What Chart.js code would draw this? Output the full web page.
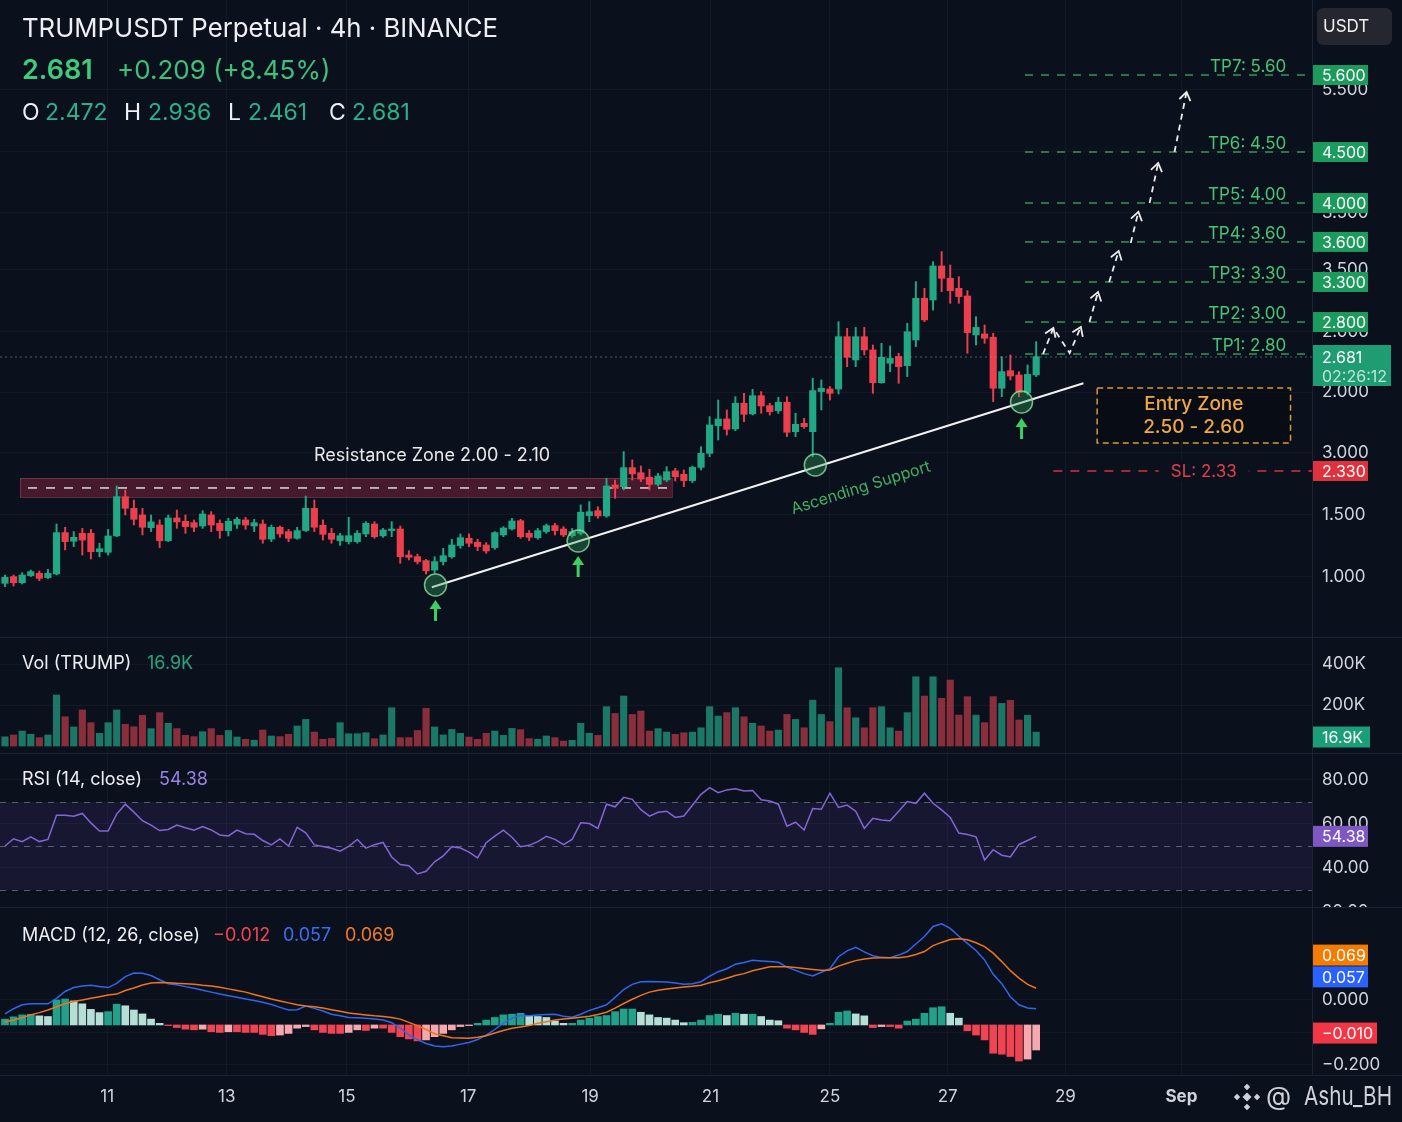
<!DOCTYPE html>
<html>
<head>
<meta charset="utf-8">
<title>TRUMPUSDT Perpetual 4h</title>
<script src="https://cdn.jsdelivr.net/npm/chart.js@4.4.1/dist/chart.umd.min.js"></script>
<style>
  html, body { margin: 0; padding: 0; background: #0b101d; }
  #wrap { position: relative; width: 1402px; height: 1122px; overflow: hidden; background: #0b101d; }
  #wrap canvas { position: absolute; left: 0; }
</style>
</head>
<body>
<div id="wrap">
  <canvas id="priceChart" width="1402" height="637" style="top:0px"></canvas>
  <canvas id="volChart" width="1402" height="116" style="top:637px"></canvas>
  <canvas id="rsiChart" width="1402" height="154" style="top:753px"></canvas>
  <canvas id="macdChart" width="1402" height="215" style="top:907px"></canvas>
</div>
<script>
// ---- datos de velas (4h) ----
const candleOpen = [0.949,1.003,0.954,1.011,1.030,0.995,1.024,1.358,1.288,1.352,
  1.352,1.204,1.199,1.331,1.648,1.554,1.500,1.398,1.419,1.293,
  1.476,1.449,1.438,1.411,1.500,1.433,1.374,1.425,1.460,1.411,
  1.427,1.306,1.401,1.366,1.312,1.374,1.554,1.417,1.352,1.293,
  1.285,1.285,1.347,1.427,1.331,1.374,1.387,1.177,1.164,1.132,
  1.056,1.124,1.164,1.253,1.312,1.280,1.258,1.237,1.339,1.387,
  1.454,1.352,1.317,1.366,1.414,1.387,1.333,1.352,1.495,1.535,
  1.492,1.742,1.728,1.882,1.841,1.804,1.747,1.782,1.855,1.828,
  1.777,1.884,1.997,2.220,2.274,2.194,2.401,2.315,2.462,2.382,
  2.341,2.409,2.172,2.239,2.172,2.495,2.516,2.516,2.938,2.750,
  2.938,2.831,2.567,2.723,2.777,2.704,2.911,3.247,3.234,3.508,
  3.409,3.328,3.266,2.952,2.960,2.933,2.522,2.664,2.629,2.487,
  2.629];
const candleHigh = [1.016,1.016,1.035,1.056,1.048,1.062,1.427,1.401,1.366,1.392,
  1.384,1.272,1.384,1.734,1.702,1.621,1.554,1.500,1.460,1.500,
  1.540,1.500,1.460,1.535,1.527,1.460,1.473,1.481,1.481,1.465,
  1.460,1.419,1.411,1.384,1.401,1.653,1.621,1.460,1.392,1.352,
  1.481,1.374,1.446,1.446,1.392,1.446,1.411,1.212,1.185,1.142,
  1.164,1.231,1.304,1.347,1.347,1.304,1.277,1.366,1.406,1.473,
  1.465,1.374,1.392,1.427,1.433,1.406,1.392,1.581,1.608,1.567,
  1.796,1.782,2.011,1.944,1.895,1.868,1.836,1.890,1.876,1.863,
  1.895,2.051,2.293,2.427,2.347,2.454,2.481,2.513,2.495,2.401,
  2.449,2.454,2.320,2.280,2.602,2.589,2.535,3.059,3.005,3.013,
  3.013,2.871,2.884,2.863,2.804,3.046,3.382,3.328,3.543,3.624,
  3.516,3.422,3.309,3.099,3.032,2.965,2.777,2.790,2.656,2.710,
  2.898];
const candleLow = [0.922,0.927,0.944,1.003,0.970,0.987,1.016,1.218,1.245,1.177,
  1.145,1.164,1.177,1.325,1.500,1.419,1.339,1.366,1.237,1.285,
  1.392,1.352,1.366,1.392,1.366,1.312,1.331,1.392,1.384,1.366,
  1.272,1.285,1.320,1.285,1.304,1.366,1.366,1.298,1.272,1.255,
  1.266,1.272,1.325,1.312,1.320,1.325,1.110,1.137,1.105,1.024,
  1.030,1.097,1.151,1.231,1.245,1.212,1.191,1.223,1.325,1.379,
  1.312,1.293,1.304,1.352,1.339,1.325,1.320,1.339,1.446,1.473,
  1.481,1.634,1.702,1.782,1.769,1.702,1.734,1.769,1.774,1.728,
  1.761,1.863,1.970,2.105,2.145,2.180,2.253,2.306,2.320,2.306,
  2.320,2.132,2.132,2.199,1.970,2.347,2.427,2.476,2.696,2.696,
  2.790,2.481,2.562,2.656,2.562,2.616,2.858,3.059,3.153,3.301,
  3.207,3.207,2.804,2.871,2.884,2.414,2.454,2.589,2.454,2.468,
  2.616];
const candleClose = [0.997,0.954,1.016,1.043,0.989,1.030,1.358,1.285,1.320,1.298,
  1.204,1.228,1.331,1.648,1.554,1.465,1.401,1.444,1.293,1.476,
  1.444,1.406,1.401,1.508,1.419,1.374,1.449,1.465,1.419,1.438,
  1.304,1.401,1.347,1.312,1.374,1.554,1.401,1.344,1.304,1.333,
  1.333,1.352,1.433,1.325,1.379,1.387,1.164,1.159,1.124,1.051,
  1.124,1.172,1.258,1.317,1.272,1.245,1.210,1.358,1.395,1.452,
  1.325,1.320,1.374,1.414,1.374,1.339,1.366,1.522,1.527,1.492,
  1.734,1.715,1.882,1.831,1.790,1.747,1.815,1.849,1.809,1.777,
  1.884,1.997,2.226,2.274,2.191,2.401,2.312,2.462,2.379,2.333,
  2.409,2.167,2.231,2.212,2.503,2.522,2.481,2.938,2.772,2.938,
  2.831,2.567,2.772,2.763,2.696,2.978,3.247,3.073,3.508,3.409,
  3.309,3.261,2.970,3.013,2.925,2.522,2.656,2.621,2.487,2.634,
  2.777];

// volumen en miles (K)
const volumeK = [45,54,73,57,41,54,249,143,93,176,
  114,62,114,176,106,94,150,85,163,111,
  85,52,46,70,85,52,76,44,33,28,
  78,49,46,57,98,130,68,33,37,114,
  60,60,65,36,54,187,41,41,76,184,
  93,54,81,62,44,33,62,73,52,86,
  80,36,33,49,41,24,28,111,62,52,
  192,159,244,154,171,73,85,68,57,65,
  68,89,192,146,163,187,143,111,98,73,
  78,154,130,89,224,154,119,382,187,138,
  89,187,192,89,73,163,338,244,338,233,
  322,151,241,151,114,241,208,223,127,150,
  68];

const rsiValues = [50,53.3,52,54.2,52,53,64,64,63.5,64.8,
  60.5,56.8,56.8,64.5,69,65.4,61.5,59.5,57,57.5,
  59.5,58.3,57.2,58.8,57.3,55,54.6,57.2,55.6,55.3,
  52.5,50.5,53.2,50,58.5,56,50.5,49.8,49,47.6,
  49.8,53,49,50.6,51.6,45,41.6,41,37.3,38.5,
  42.8,45.5,49.7,49.1,47.2,44.6,51.5,54.5,57.2,54,
  49.7,50.3,52,54.4,53,50.6,53,60.6,60.2,58,
  69,67.8,72.1,71.2,66.5,63.6,65.3,65.8,63,63.6,
  68.5,73.5,76.5,74.2,75.5,76,75,75.2,71,70.5,
  69,59,60.8,57.3,67,66.7,74,67.5,68.6,65.8,
  58,62.6,61.8,61.5,65.8,70.2,69.4,74,69.4,66.4,
  63,55.9,55.2,54.2,43.6,48.3,45.8,45,50.7,52.5,
  54.38];

const macdLine = [0.034,0.050,0.062,0.065,0.065,0.065,0.082,0.103,0.115,0.120,
  0.122,0.118,0.115,0.128,0.149,0.160,0.159,0.152,0.139,0.127,
  0.124,0.118,0.113,0.107,0.101,0.095,0.090,0.085,0.080,0.075,
  0.070,0.063,0.054,0.046,0.047,0.058,0.051,0.043,0.033,0.028,
  0.023,0.022,0.021,0.018,0.015,0.007,-0.010,-0.031,-0.045,-0.057,
  -0.065,-0.067,-0.065,-0.059,-0.054,-0.045,-0.031,-0.014,0.006,0.021,
  0.029,0.028,0.031,0.032,0.033,0.027,0.024,0.033,0.045,0.053,
  0.062,0.085,0.109,0.125,0.133,0.134,0.133,0.132,0.129,0.125,
  0.127,0.133,0.150,0.164,0.173,0.187,0.192,0.199,0.197,0.195,
  0.193,0.178,0.168,0.158,0.151,0.162,0.173,0.210,0.228,0.239,
  0.225,0.213,0.208,0.207,0.215,0.226,0.249,0.272,0.303,0.311,
  0.297,0.273,0.251,0.229,0.200,0.156,0.127,0.087,0.062,0.052,
  0.050];
const signalLine = [0.009,0.015,0.022,0.031,0.038,0.046,0.056,0.065,0.072,0.077,
  0.082,0.087,0.092,0.095,0.106,0.114,0.123,0.129,0.131,0.130,
  0.128,0.127,0.125,0.122,0.120,0.116,0.111,0.106,0.101,0.094,
  0.087,0.080,0.074,0.068,0.062,0.058,0.056,0.052,0.047,0.042,
  0.037,0.034,0.031,0.028,0.026,0.023,0.018,0.008,-0.002,-0.014,
  -0.027,-0.033,-0.039,-0.040,-0.041,-0.038,-0.033,-0.025,-0.017,-0.010,
  -0.006,-0.002,0.005,0.010,0.015,0.018,0.021,0.024,0.027,0.032,
  0.039,0.052,0.066,0.079,0.091,0.101,0.107,0.111,0.114,0.117,
  0.119,0.122,0.130,0.136,0.144,0.152,0.158,0.167,0.173,0.179,
  0.179,0.179,0.177,0.174,0.171,0.168,0.169,0.181,0.190,0.198,
  0.203,0.206,0.207,0.207,0.207,0.210,0.217,0.226,0.244,0.254,
  0.263,0.265,0.262,0.253,0.241,0.221,0.195,0.167,0.144,0.125,
  0.113];
const macdHist = [0.018,0.025,0.031,0.033,0.028,0.026,0.077,0.080,0.074,0.065,
  0.048,0.038,0.041,0.064,0.059,0.046,0.034,0.018,0.005,-0.002,
  -0.008,-0.013,-0.015,-0.013,-0.021,-0.023,-0.021,-0.021,-0.023,-0.023,
  -0.029,-0.033,-0.031,-0.026,-0.010,-0.005,-0.015,-0.023,-0.026,-0.026,
  -0.023,-0.015,-0.017,-0.010,-0.010,-0.023,-0.036,-0.043,-0.049,-0.046,
  -0.036,-0.026,-0.015,-0.005,-0.002,0.005,0.015,0.023,0.031,0.033,
  0.036,0.029,0.026,0.023,0.012,0.005,0.005,0.015,0.021,0.026,
  0.029,0.041,0.049,0.049,0.039,0.031,0.023,0.021,0.015,0.007,
  0.008,0.015,0.029,0.033,0.029,0.036,0.033,0.033,0.026,0.015,
  0.013,-0.010,-0.015,-0.023,-0.029,-0.012,0.005,0.039,0.043,0.034,
  0.028,-0.008,-0.005,-0.005,-0.010,0.012,0.018,0.036,0.053,0.056,
  0.036,0.021,-0.018,-0.031,-0.046,-0.087,-0.090,-0.097,-0.111,-0.105,
  -0.077];

// eje de fechas (posicion en velas) y etiquetas
const dateTickIndex = [11.9, 25.8, 39.8, 53.9, 68.1, 82.1, 96.0, 109.7, 123.4, 136.9];
const dateTickLabels = ['11', '13', '15', '17', '19', '21', '25', '27', '29', 'Sep'];

// etiquetas de los ejes tal como aparecen
const priceTickValues = [1.0, 1.5, 2.0, 2.49, 2.98, 3.48, 3.94, 4.43, 4.93];
const priceTickLabels = ['1.000', '1.500', '3.000', '2.000', '2.000', '3.500', '3.500', '4.500', '5.500'];
const volTickValues = [200, 400];
const volTickLabels = ['200K', '400K'];
const rsiTickValues = [20, 40, 60, 80];
const rsiTickLabels = ['20.00', '40.00', '60.00', '80.00'];
const rsiBandLevels = [70, 50, 30];
const macdTickValues = [-0.123, -0.022, 0.077];
const macdTickLabels = ['\u22120.200', '\u22120.100', '0.000'];

// niveles del plan de trading
const tpLevels = [2.798, 3.056, 3.379, 3.702, 4.016, 4.427, 5.048];
const tpLabels = ['TP1: 2.80', 'TP2: 3.00', 'TP3: 3.30', 'TP4: 3.60', 'TP5: 4.00', 'TP6: 4.50', 'TP7: 5.60'];
const tpTags = [null, '2.800', '3.300', '3.600', '4.000', '4.500', '5.600'];
const tpStartX = 118.7, tpLabelX = 149.1;
const slLevel = 1.855, slStartX = 122.0, slLabelX = 139.5;
const slLabel = 'SL: 2.33', slTag = '2.330';
const lastLevel = 2.774, lastTag = '2.681', lastCountdown = '02:26:12';
const entryX = [127.1, 149.6], entryY = [2.081, 2.524];
const entryLabels = ['Entry Zone', '2.50 - 2.60'];
const resZoneX = [1.75, 77.6], resZoneY = [1.645, 1.798], resZoneMid = 1.718;
const resLabel = 'Resistance Zone 2.00 - 2.10', resLabelAt = [49.7, 1.976];
const supportX = [49.67, 125.5], supportY = [0.917, 2.562];
const supportLabel = 'Ascending Support', supportLabelAt = [99.6, 1.718];
const touchX = [50.1, 66.7, 94.3, 118.3], touchY = [0.935, 1.290, 1.903, 2.411];
const arrowX = [50.1, 66.7, 118.3], arrowY = [0.815, 1.169, 2.282];
const projSegX = [[120.8, 122.0, 123.9, 125.2], [126.2, 127.2], [128.5, 129.6], [131.0, 131.9], [133.2, 134.2], [136.1, 137.5]];
const projSegY = [[2.798, 3.008, 2.806, 3.016], [3.056, 3.298], [3.379, 3.629], [3.694, 3.944], [4.016, 4.339], [4.427, 4.911]];

const volTagLevel = 44, volTag = '16.9K';
const rsiLast = '54.38';
const macdTagLevels = [0.215, 0.148, -0.025];
const macdTagTexts = ['0.069', '0.057', '\u22120.010'];

// textos de cabecera
const headerTitle = 'TRUMPUSDT Perpetual \u00b7 4h \u00b7 BINANCE';
const headerPrice = '2.681', headerChange = '+0.209 (+8.45%)';
const ohlcKeys = ['O', 'H', 'L', 'C'];
const ohlcVals = ['2.472', '2.936', '2.461', '2.681'];

// ---- estilos ----
const FONT = 'Inter, "Noto Sans", "DejaVu Sans", sans-serif';
const BG = '#0b101d';
const GRID = 'rgba(255,255,255,0.035)';
const SEP = '#1d2333';
const AXIS_TXT = '#d1d4dc';
const UP = '#21a884', DOWN = '#ec3f4d';
const X_MIN = -0.58, X_MAX = 152.1;

const idx = candleOpen.map((_, i) => i);
const isUp = i => candleClose[i] >= candleOpen[i];

function xAxis(showLabels) {
  return {
    type: 'linear', min: X_MIN, max: X_MAX, offset: false,
    grid: { color: GRID, drawTicks: false, offset: false },
    border: { display: false },
    ticks: {
      display: showLabels, autoSkip: false, maxRotation: 0, padding: 12, color: AXIS_TXT,
      font: c => ({ family: FONT, size: 17, weight: c.index === dateTickLabels.length - 1 ? 'bold' : 'normal' }),
      callback: (v, i) => dateTickLabels[i]
    },
    afterBuildTicks: s => { s.ticks = dateTickIndex.map(v => ({ value: v })); },
    afterFit: s => { s.height = showLabels ? 47 : 0; s.paddingLeft = 0; s.paddingRight = 0; }
  };
}

function yAxis(min, max, values, labels) {
  return {
    type: 'linear', position: 'right', min, max,
    grid: { color: GRID, drawTicks: false },
    border: { display: true, color: SEP },
    ticks: { autoSkip: false, padding: 10, color: AXIS_TXT, font: { family: FONT, size: 17 }, callback: (v, i) => labels[i] },
    afterBuildTicks: s => { s.ticks = values.map(v => ({ value: v })); },
    afterFit: s => { s.width = 90; s.paddingTop = 0; s.paddingBottom = 0; }
  };
}

function baseOptions(y, showX) {
  return {
    responsive: false, animation: false, events: [],
    layout: { padding: 0, autoPadding: false },
    plugins: { legend: { display: false }, tooltip: { enabled: false } },
    scales: { x: xAxis(showX), y }
  };
}

function hLine(x0, x1, v, color, dash, width, order) {
  return { type: 'line', data: [{ x: x0, y: v }, { x: x1, y: v }], borderColor: color, borderWidth: width,
    borderDash: dash, pointRadius: 0, fill: false, order };
}

function tag(ctx, x, yMid, w, h, color, text) {
  ctx.fillStyle = color;
  ctx.fillRect(x, yMid - h / 2, w, h);
  ctx.fillStyle = '#ffffff';
  ctx.font = `16px ${FONT}`;
  ctx.textAlign = 'left';
  ctx.textBaseline = 'middle';
  ctx.fillText(text, x + 9, yMid + 1);
}

function separator(ctx, y) {
  ctx.fillStyle = SEP;
  ctx.fillRect(0, y, 1402, 1);
}

function legendText(ctx, parts, y) {
  ctx.textAlign = 'left';
  ctx.textBaseline = 'middle';
  ctx.font = `18px ${FONT}`;
  parts.forEach(p => { ctx.fillStyle = p[2]; ctx.fillText(p[0], p[1], y); });
}

function chevron(ctx, fx, fy, tx, ty) {
  const ang = Math.atan2(ty - fy, tx - fx), len = 10, spread = 0.6;
  ctx.beginPath();
  ctx.moveTo(tx - len * Math.cos(ang - spread), ty - len * Math.sin(ang - spread));
  ctx.lineTo(tx, ty);
  ctx.lineTo(tx - len * Math.cos(ang + spread), ty - len * Math.sin(ang + spread));
  ctx.stroke();
}

// texto ajustado a un ancho dado (escala horizontal)
function fitText(ctx, text, x, y, width) {
  const w = ctx.measureText(text).width;
  ctx.save();
  ctx.translate(x, y);
  ctx.scale(Math.min(1, width / w), 1);
  ctx.fillText(text, 0, 0);
  ctx.restore();
}

/**
 * 1. GRAFICO DE PRECIO
 */
const pricePlugin = {
  id: 'priceMarks',
  beforeDatasetsDraw(chart) {
    const { ctx, scales: { x, y } } = chart;
    ctx.save();
    const x1 = x.getPixelForValue(resZoneX[0]), x2 = x.getPixelForValue(resZoneX[1]);
    const yt = y.getPixelForValue(resZoneY[1]), yb = y.getPixelForValue(resZoneY[0]);
    ctx.fillStyle = 'rgba(118,34,56,0.55)';
    ctx.fillRect(x1, yt, x2 - x1, yb - yt);
    ctx.strokeStyle = 'rgba(160,70,95,0.55)';
    ctx.lineWidth = 1;
    ctx.strokeRect(x1 + 0.5, yt + 0.5, x2 - x1, yb - yt);
    const ym = y.getPixelForValue(resZoneMid);
    ctx.strokeStyle = 'rgba(236,236,236,0.85)';
    ctx.lineWidth = 1.6;
    ctx.setLineDash([9, 9]);
    ctx.beginPath(); ctx.moveTo(x1 + 8, ym); ctx.lineTo(x2, ym); ctx.stroke();
    ctx.restore();
  },
  afterDatasetsDraw(chart) {
    const { ctx, scales: { x, y } } = chart;
    ctx.save();
    // texto zona de resistencia
    ctx.font = `18px ${FONT}`;
    ctx.fillStyle = '#e9e9e9';
    ctx.textAlign = 'center';
    ctx.textBaseline = 'middle';
    ctx.fillText(resLabel, x.getPixelForValue(resLabelAt[0]), y.getPixelForValue(resLabelAt[1]));

    // texto del soporte, girado con la linea
    const sx0 = x.getPixelForValue(supportX[0]), sy0 = y.getPixelForValue(supportY[0]);
    const sx1 = x.getPixelForValue(supportX[1]), sy1 = y.getPixelForValue(supportY[1]);
    ctx.save();
    ctx.translate(x.getPixelForValue(supportLabelAt[0]), y.getPixelForValue(supportLabelAt[1]));
    ctx.rotate(Math.atan2(sy1 - sy0, sx1 - sx0));
    ctx.font = `16px ${FONT}`;
    ctx.fillStyle = '#3fae60';
    ctx.fillText(supportLabel, 0, 0);
    ctx.restore();

    // flechas verdes bajo los toques
    ctx.fillStyle = '#3ccf62';
    arrowX.forEach((v, i) => {
      const px = x.getPixelForValue(v), py = y.getPixelForValue(arrowY[i]);
      ctx.beginPath(); ctx.moveTo(px, py); ctx.lineTo(px - 6, py + 9); ctx.lineTo(px + 6, py + 9); ctx.closePath(); ctx.fill();
      ctx.fillRect(px - 1.5, py + 8, 3, 13);
    });

    // puntas de flecha de la proyeccion
    ctx.strokeStyle = '#ececec';
    ctx.lineWidth = 1.8;
    projSegX.forEach((seg, k) => {
      const ys = projSegY[k];
      for (let j = 1; j < seg.length; j++) {
        const peak = j === seg.length - 1 || ys[j] > ys[j + 1];
        if (!peak) continue;
        chevron(ctx, x.getPixelForValue(seg[j - 1]), y.getPixelForValue(ys[j - 1]), x.getPixelForValue(seg[j]), y.getPixelForValue(ys[j]));
      }
    });

    // etiquetas TP
    ctx.font = `17px ${FONT}`;
    ctx.fillStyle = '#47c474';
    ctx.textAlign = 'right';
    ctx.textBaseline = 'alphabetic';
    tpLevels.forEach((l, i) => ctx.fillText(tpLabels[i], x.getPixelForValue(tpLabelX), y.getPixelForValue(l) - 3));

    // stop loss
    ctx.font = `17px ${FONT}`;
    const slx = x.getPixelForValue(slLabelX), sly = y.getPixelForValue(slLevel);
    const tw = ctx.measureText(slLabel).width;
    ctx.fillStyle = BG;
    ctx.fillRect(slx - tw / 2 - 12, sly - 10, tw + 24, 20);
    ctx.fillStyle = '#e2404b';
    ctx.textAlign = 'center';
    ctx.textBaseline = 'middle';
    ctx.fillText(slLabel, slx, sly + 1);

    // zona de entrada
    const ex0 = x.getPixelForValue(entryX[0]), ex1 = x.getPixelForValue(entryX[1]);
    const ey0 = y.getPixelForValue(entryY[1]), ey1 = y.getPixelForValue(entryY[0]);
    ctx.fillStyle = 'rgba(0,0,0,0.25)';
    ctx.fillRect(ex0, ey0, ex1 - ex0, ey1 - ey0);
    ctx.strokeStyle = '#d99a2e';
    ctx.lineWidth = 1.5;
    ctx.setLineDash([6, 4]);
    ctx.strokeRect(ex0, ey0, ex1 - ex0, ey1 - ey0);
    ctx.setLineDash([]);
    ctx.font = `500 19px ${FONT}`;
    ctx.fillStyle = '#f2a83e';
    const ecx = (ex0 + ex1) / 2, ecy = (ey0 + ey1) / 2;
    ctx.fillText(entryLabels[0], ecx, ecy - 11);
    ctx.fillText(entryLabels[1], ecx, ecy + 12);
    ctx.restore();
  },
  afterDraw(chart) {
    const { ctx, chartArea: a, scales: { y } } = chart;
    ctx.save();
    const tx = a.right + 1;
    tpLevels.forEach((l, i) => { if (tpTags[i]) tag(ctx, tx, y.getPixelForValue(l), 55, 20, '#1c9c5c', tpTags[i]); });
    tag(ctx, tx, y.getPixelForValue(slLevel), 55, 20, '#e0313e', slTag);

    // precio actual con cuenta atras
    const ly = y.getPixelForValue(lastLevel);
    ctx.fillStyle = '#1f9d72';
    ctx.fillRect(tx, ly - 12, 78, 41);
    ctx.font = `16px ${FONT}`;
    ctx.textAlign = 'left';
    ctx.textBaseline = 'middle';
    ctx.fillStyle = '#ffffff';
    ctx.fillText(lastTag, tx + 9, ly + 1);
    ctx.fillStyle = 'rgba(255,255,255,0.72)';
    ctx.fillText(lastCountdown, tx + 9, ly + 20);

    // caja USDT
    ctx.fillStyle = '#24272f';
    ctx.beginPath();
    if (ctx.roundRect) ctx.roundRect(1317, 8, 75, 37, 6); else ctx.rect(1317, 8, 75, 37);
    ctx.fill();
    ctx.fillStyle = '#f0f0f0';
    ctx.font = `17px ${FONT}`;
    ctx.fillText('USDT', 1323, 27);

    // cabecera
    ctx.fillStyle = '#eef0f3';
    ctx.font = `26px ${FONT}`;
    fitText(ctx, headerTitle, 22, 29, 476);
    ctx.fillStyle = '#3ccc7c';
    ctx.font = `600 27px ${FONT}`;
    ctx.fillText(headerPrice, 22, 71);
    ctx.fillStyle = '#3fc07a';
    ctx.font = `26px ${FONT}`;
    ctx.fillText(headerChange, 117, 71);
    const keyX = [22, 124, 228, 329], valX = [45, 148, 248, 352];
    ctx.font = `23px ${FONT}`;
    ohlcKeys.forEach((k, i) => {
      ctx.fillStyle = '#eef0f3'; ctx.fillText(k, keyX[i], 113);
      ctx.fillStyle = '#2bb089'; ctx.fillText(ohlcVals[i], valX[i], 113);
    });
    ctx.restore();
  }
};

const priceDatasets = [
  { type: 'bar', data: idx.map(i => ({ x: i, y: [candleLow[i], candleHigh[i]] })),
    backgroundColor: c => isUp(c.dataIndex) ? UP : DOWN, barThickness: 1.3, maxBarThickness: 1.3, grouped: false, order: 10 },
  { type: 'bar', data: idx.map(i => ({ x: i, y: [candleOpen[i], candleClose[i]] })),
    backgroundColor: c => isUp(c.dataIndex) ? UP : DOWN, barThickness: 6.5, maxBarThickness: 6.5, minBarLength: 1.5, grouped: false, order: 9 },
  hLine(X_MIN, X_MAX, lastLevel, 'rgba(150,158,175,0.55)', [2, 3], 1, 8),
  ...tpLevels.map(l => hLine(tpStartX, X_MAX, l, '#2f9a58', [8, 8], 1.5, 7)),
  hLine(slStartX, X_MAX, slLevel, '#d5333f', [9, 8], 1.5, 7),
  { type: 'line', data: supportX.map((v, i) => ({ x: v, y: supportY[i] })), borderColor: '#f2f2f2', borderWidth: 2, pointRadius: 0, order: 5 },
  { type: 'line', data: touchX.map((v, i) => ({ x: v, y: touchY[i] })), showLine: false, pointRadius: 11,
    pointBackgroundColor: 'rgba(50,165,95,0.35)', pointBorderColor: 'rgba(140,225,160,0.8)', pointBorderWidth: 1.5, order: 4 },
  ...projSegX.map((seg, k) => ({ type: 'line', data: seg.map((v, j) => ({ x: v, y: projSegY[k][j] })),
    borderColor: '#ececec', borderWidth: 1.8, borderDash: [6, 5], pointRadius: 0, order: 3 }))
];

new Chart(document.getElementById('priceChart'), {
  type: 'bar',
  data: { datasets: priceDatasets },
  options: baseOptions(yAxis(0.516, 5.653, priceTickValues, priceTickLabels), false),
  plugins: [pricePlugin]
});

/**
 * 2. VOLUMEN
 */
new Chart(document.getElementById('volChart'), {
  type: 'bar',
  data: { datasets: [{
    data: idx.map(i => ({ x: i, y: volumeK[i] })),
    backgroundColor: c => isUp(c.dataIndex) ? 'rgba(33,160,130,0.72)' : 'rgba(214,64,78,0.62)',
    barThickness: 6.5, maxBarThickness: 6.5, grouped: false
  }] },
  options: baseOptions(yAxis(-34, 532, volTickValues, volTickLabels), false),
  plugins: [{
    id: 'volMarks',
    afterDraw(chart) {
      const { ctx, chartArea: a, scales: { y } } = chart;
      ctx.save();
      separator(ctx, 0);
      legendText(ctx, [['Vol (TRUMP)', 22, '#eef0f3'], [volTag, 147, '#2aa37c']], 27);
      tag(ctx, a.right + 1, y.getPixelForValue(volTagLevel), 57, 21, '#1a9e78', volTag);
      ctx.restore();
    }
  }]
});

/**
 * 3. RSI
 */
new Chart(document.getElementById('rsiChart'), {
  type: 'line',
  data: { datasets: [{
    data: idx.map(i => ({ x: i, y: rsiValues[i] })),
    borderColor: '#8466d6', borderWidth: 1.5, pointRadius: 0, tension: 0
  }] },
  options: baseOptions(yAxis(22.27, 92.27, rsiTickValues, rsiTickLabels), false),
  plugins: [{
    id: 'rsiMarks',
    beforeDatasetsDraw(chart) {
      const { ctx, chartArea: a, scales: { y } } = chart;
      ctx.save();
      const y0 = y.getPixelForValue(rsiBandLevels[0]), y1 = y.getPixelForValue(rsiBandLevels[2]);
      ctx.fillStyle = 'rgba(110,80,190,0.13)';
      ctx.fillRect(a.left, y0, a.right - a.left, y1 - y0);
      ctx.strokeStyle = 'rgba(150,155,170,0.55)';
      ctx.lineWidth = 1;
      ctx.setLineDash([6, 6]);
      rsiBandLevels.forEach(l => {
        const py = Math.round(y.getPixelForValue(l)) + 0.5;
        ctx.beginPath(); ctx.moveTo(a.left, py); ctx.lineTo(a.right, py); ctx.stroke();
      });
      ctx.restore();
    },
    afterDraw(chart) {
      const { ctx, chartArea: a, scales: { y } } = chart;
      ctx.save();
      separator(ctx, 0);
      legendText(ctx, [['RSI (14, close)', 22, '#eef0f3'], [rsiLast, 159, '#9d82e6']], 27);
      tag(ctx, a.right + 1, y.getPixelForValue(rsiValues[rsiValues.length - 1]), 55, 21, '#7e57c2', rsiLast);
      ctx.restore();
    }
  }]
});

/**
 * 4. MACD
 */
function histColor(i) {
  const v = macdHist[i], p = i > 0 ? macdHist[i - 1] : 0;
  if (v >= 0) return v >= p ? '#22a08a' : '#b5ded5';
  return v <= p ? '#f04452' : '#f7a8ae';
}

new Chart(document.getElementById('macdChart'), {
  type: 'bar',
  data: { datasets: [
    { type: 'bar', data: idx.map(i => ({ x: i, y: macdHist[i] })), backgroundColor: c => histColor(c.dataIndex),
      barThickness: 7, maxBarThickness: 7, grouped: false, order: 5 },
    { type: 'line', data: idx.map(i => ({ x: i, y: macdLine[i] })), borderColor: '#3066ee', borderWidth: 1.5, pointRadius: 0, order: 2 },
    { type: 'line', data: idx.map(i => ({ x: i, y: signalLine[i] })), borderColor: '#f0751a', borderWidth: 1.5, pointRadius: 0, order: 1 }
  ] },
  options: baseOptions(yAxis(-0.154, 0.363, macdTickValues, macdTickLabels), true),
  plugins: [{
    id: 'macdMarks',
    afterDraw(chart) {
      const { ctx, chartArea: a, scales: { y } } = chart;
      ctx.save();
      separator(ctx, 0);
      separator(ctx, Math.round(a.bottom));
      legendText(ctx, [['MACD (12, 26, close)', 22, '#eef0f3'], ['\u22120.012', 213, '#f0454f'],
        ['0.057', 283, '#3a6df0'], ['0.069', 345, '#f07a22']], 29);
      const tagColors = ['#f57c00', '#2962ff', '#f23645'];
      const tagWidths = [55, 55, 64];
      macdTagLevels.forEach((l, i) => tag(ctx, a.right + 1, y.getPixelForValue(l), tagWidths[i], 21, tagColors[i], macdTagTexts[i]));

      // marca de agua
      const cx = 1247, cy = 190;
      ctx.fillStyle = '#cfd2d8';
      const diamond = (dx, dy, r) => {
        ctx.beginPath();
        ctx.moveTo(cx + dx, cy + dy - r); ctx.lineTo(cx + dx + r, cy + dy);
        ctx.lineTo(cx + dx, cy + dy + r); ctx.lineTo(cx + dx - r, cy + dy);
        ctx.closePath(); ctx.fill();
      };
      diamond(0, 0, 4.5);
      [[-10, 0], [10, 0], [0, -10], [0, 10]].forEach(d => diamond(d[0], d[1], 3.2));
      ctx.font = `26px ${FONT}`;
      ctx.textAlign = 'left';
      ctx.textBaseline = 'middle';
      fitText(ctx, '@', 1266, cy, 30);
      fitText(ctx, 'Ashu_BH', 1304, cy, 88);
      ctx.restore();
    }
  }]
});
</script>
</body>
</html>
